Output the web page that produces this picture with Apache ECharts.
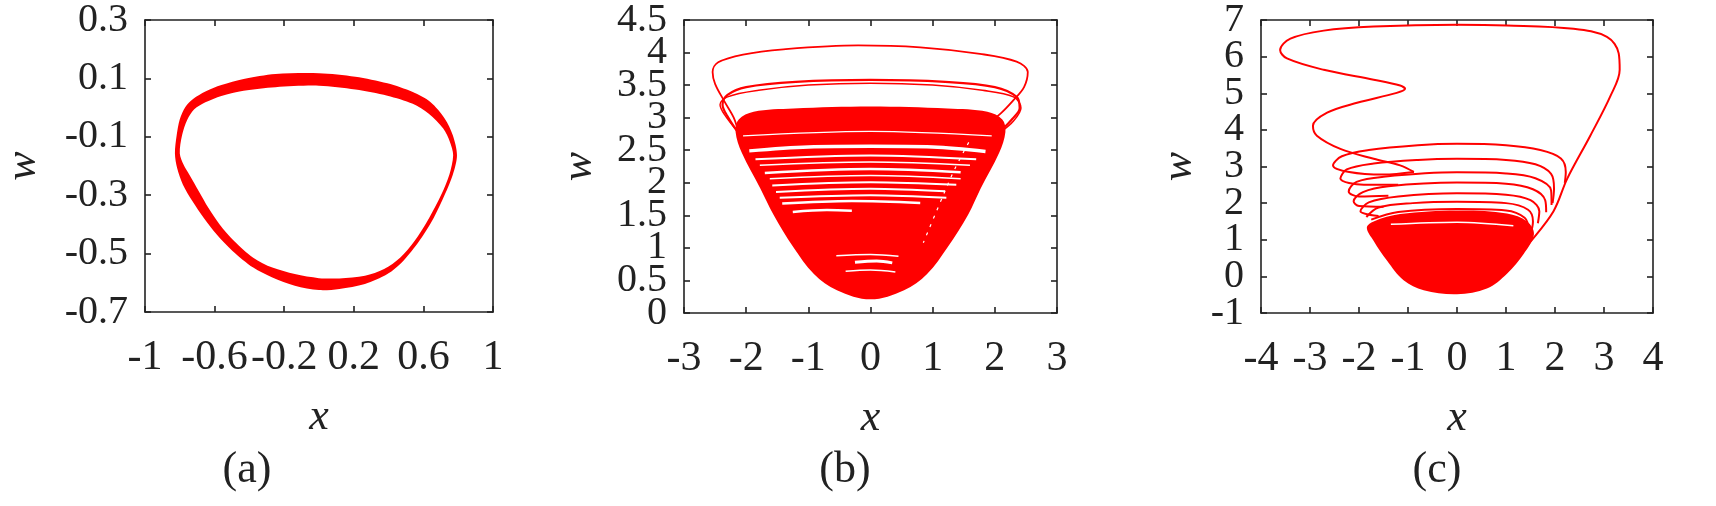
<!DOCTYPE html>
<html><head><meta charset="utf-8">
<script src="https://cdn.jsdelivr.net/npm/echarts@6/dist/echarts.min.js"></script>
<style>html,body{margin:0;padding:0;background:#fff}#c{width:1716px;height:506px}</style>
</head><body><div id="c"></div>
<script>
// ---------- tick labels ----------
const aXTicks = [-1, -0.6, -0.2, 0.2, 0.6, 1];
const aYTicks = [-0.7, -0.5, -0.3, -0.1, 0.1, 0.3];
const bXTicks = [-3, -2, -1, 0, 1, 2, 3];
const bYTicks = [0, 0.5, 1, 1.5, 2, 2.5, 3, 3.5, 4, 4.5];
const cXTicks = [-4, -3, -2, -1, 0, 1, 2, 3, 4];
const cYTicks = [-1, 0, 1, 2, 3, 4, 5, 6, 7];

// ---------- panel (a): band limit cycle (outer / inner edge) ----------
const aOuter = [[-0.828,-0.157],[-0.818,-0.095],[-0.800,-0.040],[-0.768,0.002],[-0.722,0.030],[-0.653,0.055],[-0.561,0.077],[-0.433,0.098],[-0.250,0.115],[0,0.118],[0.209,0.106],[0.393,0.083],[0.539,0.053],[0.640,0.019],[0.723,-0.038],[0.769,-0.095],[0.793,-0.163],[0.769,-0.230],[0.723,-0.298],[0.659,-0.378],[0.576,-0.457],[0.484,-0.525],[0.393,-0.570],[0.264,-0.604],[0.117,-0.621],[0,-0.625],[-0.139,-0.610],[-0.268,-0.582],[-0.378,-0.548],[-0.497,-0.491],[-0.589,-0.434],[-0.662,-0.378],[-0.727,-0.321],[-0.782,-0.264],[-0.815,-0.208]];
const aInner = [[-0.800,-0.157],[-0.787,-0.095],[-0.757,-0.042],[-0.717,-0.006],[-0.653,0.018],[-0.561,0.040],[-0.433,0.058],[-0.250,0.070],[0,0.075],[0.209,0.062],[0.393,0.041],[0.539,0.013],[0.631,-0.021],[0.714,-0.072],[0.752,-0.117],[0.771,-0.163],[0.749,-0.230],[0.703,-0.298],[0.633,-0.378],[0.549,-0.457],[0.466,-0.514],[0.374,-0.553],[0.264,-0.576],[0.117,-0.585],[0,-0.584],[-0.139,-0.570],[-0.268,-0.548],[-0.378,-0.514],[-0.488,-0.457],[-0.571,-0.400],[-0.635,-0.344],[-0.690,-0.287],[-0.745,-0.230],[-0.778,-0.196]];

// ---------- panel (b) ----------
const bBowl = [[0,0.21],[-0.54,0.35],[-0.91,0.60],[-1.24,1.01],[-1.56,1.51],[-1.77,1.91],[-2.07,2.46],[-2.17,2.78],[-2.12,2.97],[-1.88,3.09],[-1.24,3.14],[0,3.17],[1.24,3.14],[1.88,3.09],[2.12,2.97],[2.17,2.78],[2.07,2.46],[1.77,1.91],[1.57,1.51],[1.24,1.01],[0.91,0.60],[0.54,0.35]];
const bLoopA = [[-2.12,2.76],[-2.20,3.00],[-2.35,3.25],[-2.50,3.52],[-2.54,3.70],[-2.45,3.85],[-2.05,3.97],[-1.40,4.05],[-0.20,4.11],[0.80,4.08],[1.76,3.98],[2.35,3.86],[2.53,3.70],[2.47,3.47],[2.30,3.27],[2.10,3.07],[1.90,2.92]];
const bLoopB = [[-2.15,2.80],[-2.30,3.02],[-2.38,3.20],[-2.30,3.35],[-2.00,3.47],[-1.20,3.55],[0,3.58],[1.20,3.55],[2.00,3.47],[2.35,3.32],[2.40,3.15],[2.28,2.98],[2.12,2.82]];
const bLoopC = [[-2.15,2.80],[-2.35,3.05],[-2.42,3.20],[-2.30,3.32],[-1.80,3.42],[-1.00,3.50],[0,3.53],[1.00,3.50],[1.80,3.42],[2.30,3.32],[2.42,3.15],[2.30,2.95],[2.12,2.80]];
const bGap1 = [[-2.05,2.72],[0,2.79],[1.95,2.72]];
const bGap2 = [[-1.95,2.49],[-1.0,2.55],[0,2.56],[1.0,2.55],[1.85,2.48]];
const bGap3 = [[-1.85,2.36],[0,2.42],[1.70,2.36]];
const bGap4 = [[-1.78,2.27],[0,2.32],[1.60,2.27]];
const bGap5 = [[-1.70,2.15],[0,2.21],[1.45,2.16]];
const bGap6 = [[-1.62,2.06],[0,2.11],[1.45,2.06]];
const bGap7 = [[-1.58,1.96],[0,2.01],[1.38,1.97]];
const bGap8 = [[-1.52,1.86],[0,1.91],[1.20,1.87]];
const bGap9 = [[-1.46,1.77],[0,1.81],[1.22,1.77]];
const bGap10 = [[-1.42,1.68],[-0.3,1.72],[0.80,1.69]];
const bGap11 = [[-1.25,1.55],[-0.7,1.58],[-0.30,1.57]];
const bDiag = [[1.58,2.62],[1.35,2.20],[1.10,1.65],[0.85,1.08]];
const bHole1 = [[-0.55,0.88],[0,0.90],[0.45,0.87]];
const bHole2 = [[-0.25,0.78],[0.1,0.80],[0.35,0.77]];
const bHole3 = [[-0.40,0.64],[0,0.66],[0.40,0.63]];

// ---------- panel (c) ----------
const cCore = [[0,-0.485],[-0.68,-0.377],[-1.09,-0.108],[-1.43,0.431],[-1.70,0.969],[-1.84,1.329],[-1.70,1.50],[-1.16,1.70],[0,1.80],[1.02,1.72],[1.43,1.50],[1.57,1.149],[1.36,0.610],[1.02,0.072],[0.61,-0.332]];
const cBig = [[1.10,0.35],[1.50,0.95],[1.97,1.78],[2.25,2.67],[2.72,3.84],[3.13,4.92],[3.32,5.64],[3.30,6.09],[3.06,6.54],[2.38,6.76],[1.02,6.85],[0,6.87],[-1.70,6.82],[-2.72,6.71],[-3.40,6.49],[-3.61,6.18],[-3.47,5.95],[-2.72,5.64],[-1.70,5.37],[-1.16,5.21],[-1.06,5.12],[-1.23,5.01],[-2.04,4.74],[-2.65,4.47],[-2.94,4.11],[-2.86,3.84],[-2.38,3.48],[-1.70,3.21],[-1.16,3.03],[-0.88,2.85]];
const cU1 = [[-0.88,2.85],[-1.5,2.78],[-2.2,2.85],[-2.53,3.03],[-2.35,3.28],[-1.8,3.45],[-0.8,3.58],[0,3.62],[1.0,3.58],[1.7,3.45],[2.12,3.22],[2.22,2.85],[2.20,2.55]];
const cU2 = [[-1.2,2.50],[-1.9,2.50],[-2.38,2.67],[-2.25,2.92],[-1.7,3.08],[-0.8,3.18],[0,3.21],[1.0,3.18],[1.6,3.06],[1.92,2.80],[1.98,2.40],[1.95,2.00]];
const cU3 = [[-1.4,2.20],[-2.0,2.18],[-2.21,2.32],[-2.05,2.58],[-1.5,2.72],[0,2.84],[1.0,2.81],[1.6,2.68],[1.92,2.35],[1.93,1.95]];
const cU4 = [[-1.5,1.90],[-2.0,1.92],[-2.11,2.05],[-1.92,2.30],[-1.4,2.46],[0,2.56],[1.0,2.53],[1.55,2.38],[1.80,2.08],[1.82,1.75]];
const cU5 = [[-1.6,1.65],[-1.97,1.78],[-1.80,2.02],[-1.2,2.18],[0,2.27],[1.0,2.23],[1.5,2.08],[1.68,1.78],[1.65,1.45]];
const cU6 = [[-1.85,1.62],[-1.60,1.88],[-0.9,2.00],[0,2.04],[1.0,2.00],[1.45,1.82],[1.55,1.50],[1.50,1.15]];
const cU7 = [[-1.75,1.55],[-1.2,1.76],[0,1.84],[1.0,1.80],[1.38,1.60],[1.45,1.30],[1.38,1.00]];
const cGap1 = [[-1.35,1.42],[0,1.48],[1.15,1.38]];

// ---------- layout ----------
const RED = '#ff0000';
const INK = '#222';
const FONT = 'Liberation Serif';
const grids = [
  {left: 130, top: 17, width: 363, height: 295},
  {left: 684, top: 15, width: 373, height: 298},
  {left: 1261, top: 15, width: 392, height: 298}
];
const ranges = [
  {x: aXTicks, y: aYTicks, yGap: 100},
  {x: bXTicks, y: bYTicks, yGap: 83},
  {x: cXTicks, y: cYTicks, yGap: 60}
];
const xAxis = [], yAxis = [];
ranges.forEach((r, gi) => {
  const line = {show: true, onZero: false, lineStyle: {color: INK, width: 1.6}};
  const tick = {show: true, inside: true, length: 6, lineStyle: {color: INK, width: 1.6}};
  const xmin = r.x[0], xmax = r.x[r.x.length - 1], ymin = r.y[0], ymax = r.y[r.y.length - 1];
  const yLabelStyle = {showMinLabel: true, showMaxLabel: true, hideOverlap: false,
                       fontFamily: FONT, fontSize: 40, color: INK, margin: 17, padding: [10, 0, 0, 0]};
  xAxis.push({
    type: 'value', gridIndex: gi, min: xmin, max: xmax, position: 'bottom',
    axisLine: line, axisTick: Object.assign({}, tick, {customValues: r.x}),
    axisLabel: {customValues: r.x, showMinLabel: true, showMaxLabel: true, hideOverlap: false,
                fontFamily: FONT, fontSize: 42, color: INK, margin: 25},
    splitLine: {show: false},
    name: 'x', nameLocation: 'middle', nameGap: 83, nameMoveOverlap: false,
    nameTextStyle: {fontFamily: FONT, fontStyle: 'italic', fontSize: 44, color: INK}
  });
  xAxis.push({
    type: 'value', gridIndex: gi, min: xmin, max: xmax, position: 'top',
    axisLine: line, axisTick: Object.assign({}, tick, {customValues: r.x}),
    axisLabel: {show: false}, splitLine: {show: false}
  });
  // left axis: line, all ticks, every other label, name
  yAxis.push({
    type: 'value', gridIndex: gi, min: ymin, max: ymax, position: 'left',
    axisLine: line, axisTick: Object.assign({}, tick, {customValues: r.y}),
    axisLabel: Object.assign({customValues: r.y.filter((v, i) => i % 2 === 0)}, yLabelStyle),
    splitLine: {show: false},
    name: 'w', nameLocation: 'middle', nameGap: r.yGap, nameMoveOverlap: false,
    nameTextStyle: {fontFamily: FONT, fontStyle: 'italic', fontSize: 44, color: INK}
  });
  // second left axis on the same line: the remaining labels
  yAxis.push({
    type: 'value', gridIndex: gi, min: ymin, max: ymax, position: 'left', offset: 0,
    axisLine: {show: false}, axisTick: {show: false},
    axisLabel: Object.assign({customValues: r.y.filter((v, i) => i % 2 === 1)}, yLabelStyle),
    splitLine: {show: false}
  });
  yAxis.push({
    type: 'value', gridIndex: gi, min: ymin, max: ymax, position: 'right',
    axisLine: line, axisTick: Object.assign({}, tick, {customValues: r.y}),
    axisLabel: {show: false}, splitLine: {show: false}
  });
});

function polygonSeries(pts, color, gi, smooth) {
  return {
    type: 'custom', xAxisIndex: gi * 2, yAxisIndex: gi * 3, silent: true,
    data: [pts[0]],
    renderItem: function (params, api) {
      return {type: 'polygon', shape: {points: pts.map(p => api.coord(p)), smooth: smooth},
              style: {fill: color}};
    }
  };
}
function lineSeries(pts, color, width, gi, dash) {
  return {
    type: 'line', xAxisIndex: gi * 2, yAxisIndex: gi * 3, data: pts, showSymbol: false,
    smooth: 0.35, silent: true, lineStyle: {color: color, width: width, type: dash || 'solid'}
  };
}

const series = [
  polygonSeries(aOuter, RED, 0, 0.3),
  polygonSeries(aInner, '#ffffff', 0, 0.3),

  polygonSeries(bBowl, RED, 1, 0.35),
  lineSeries(bGap1, '#fff', 1.2, 1),
  lineSeries(bGap2, '#fff', 3.5, 1),
  lineSeries(bGap3, '#fff', 2, 1),
  lineSeries(bGap4, '#fff', 1.5, 1),
  lineSeries(bGap5, '#fff', 2.5, 1),
  lineSeries(bGap6, '#fff', 1.5, 1),
  lineSeries(bGap7, '#fff', 2, 1),
  lineSeries(bGap8, '#fff', 2, 1),
  lineSeries(bGap9, '#fff', 2, 1),
  lineSeries(bGap10, '#fff', 2.5, 1),
  lineSeries(bGap11, '#fff', 2.5, 1),
  lineSeries(bDiag, '#fff', 1.2, 1, [3, 6]),
  lineSeries(bHole1, '#fff', 1.5, 1),
  lineSeries(bHole2, '#fff', 3, 1),
  lineSeries(bHole3, '#fff', 1.5, 1),
  lineSeries(bLoopA, RED, 1.8, 1),
  lineSeries(bLoopB, RED, 2.2, 1),
  lineSeries(bLoopC, RED, 1.5, 1),

  polygonSeries(cCore, RED, 2, 0.35),
  lineSeries(cGap1, '#fff', 1.5, 2),
  lineSeries(cBig, RED, 2, 2),
  lineSeries(cU1, RED, 2, 2),
  lineSeries(cU2, RED, 2, 2),
  lineSeries(cU3, RED, 2, 2),
  lineSeries(cU4, RED, 2, 2),
  lineSeries(cU5, RED, 2, 2),
  lineSeries(cU6, RED, 2, 2),
  lineSeries(cU7, RED, 2, 2)
];

const captions = [
  {text: '(a)', x: 247, y: 470},
  {text: '(b)', x: 845, y: 470},
  {text: '(c)', x: 1437, y: 470}
];

const chart = echarts.init(document.getElementById('c'), null, {renderer: 'canvas'});
chart.setOption({
  animation: false,
  backgroundColor: '#fff',
  textStyle: {fontFamily: FONT},
  grid: grids,
  xAxis: xAxis,
  yAxis: yAxis,
  series: series,
  graphic: captions.map(c => ({
    type: 'text', x: c.x, y: c.y,
    style: {text: c.text, fontFamily: FONT, fontSize: 44, fill: INK, align: 'center', verticalAlign: 'middle'}
  }))
});
</script>
</body></html>
